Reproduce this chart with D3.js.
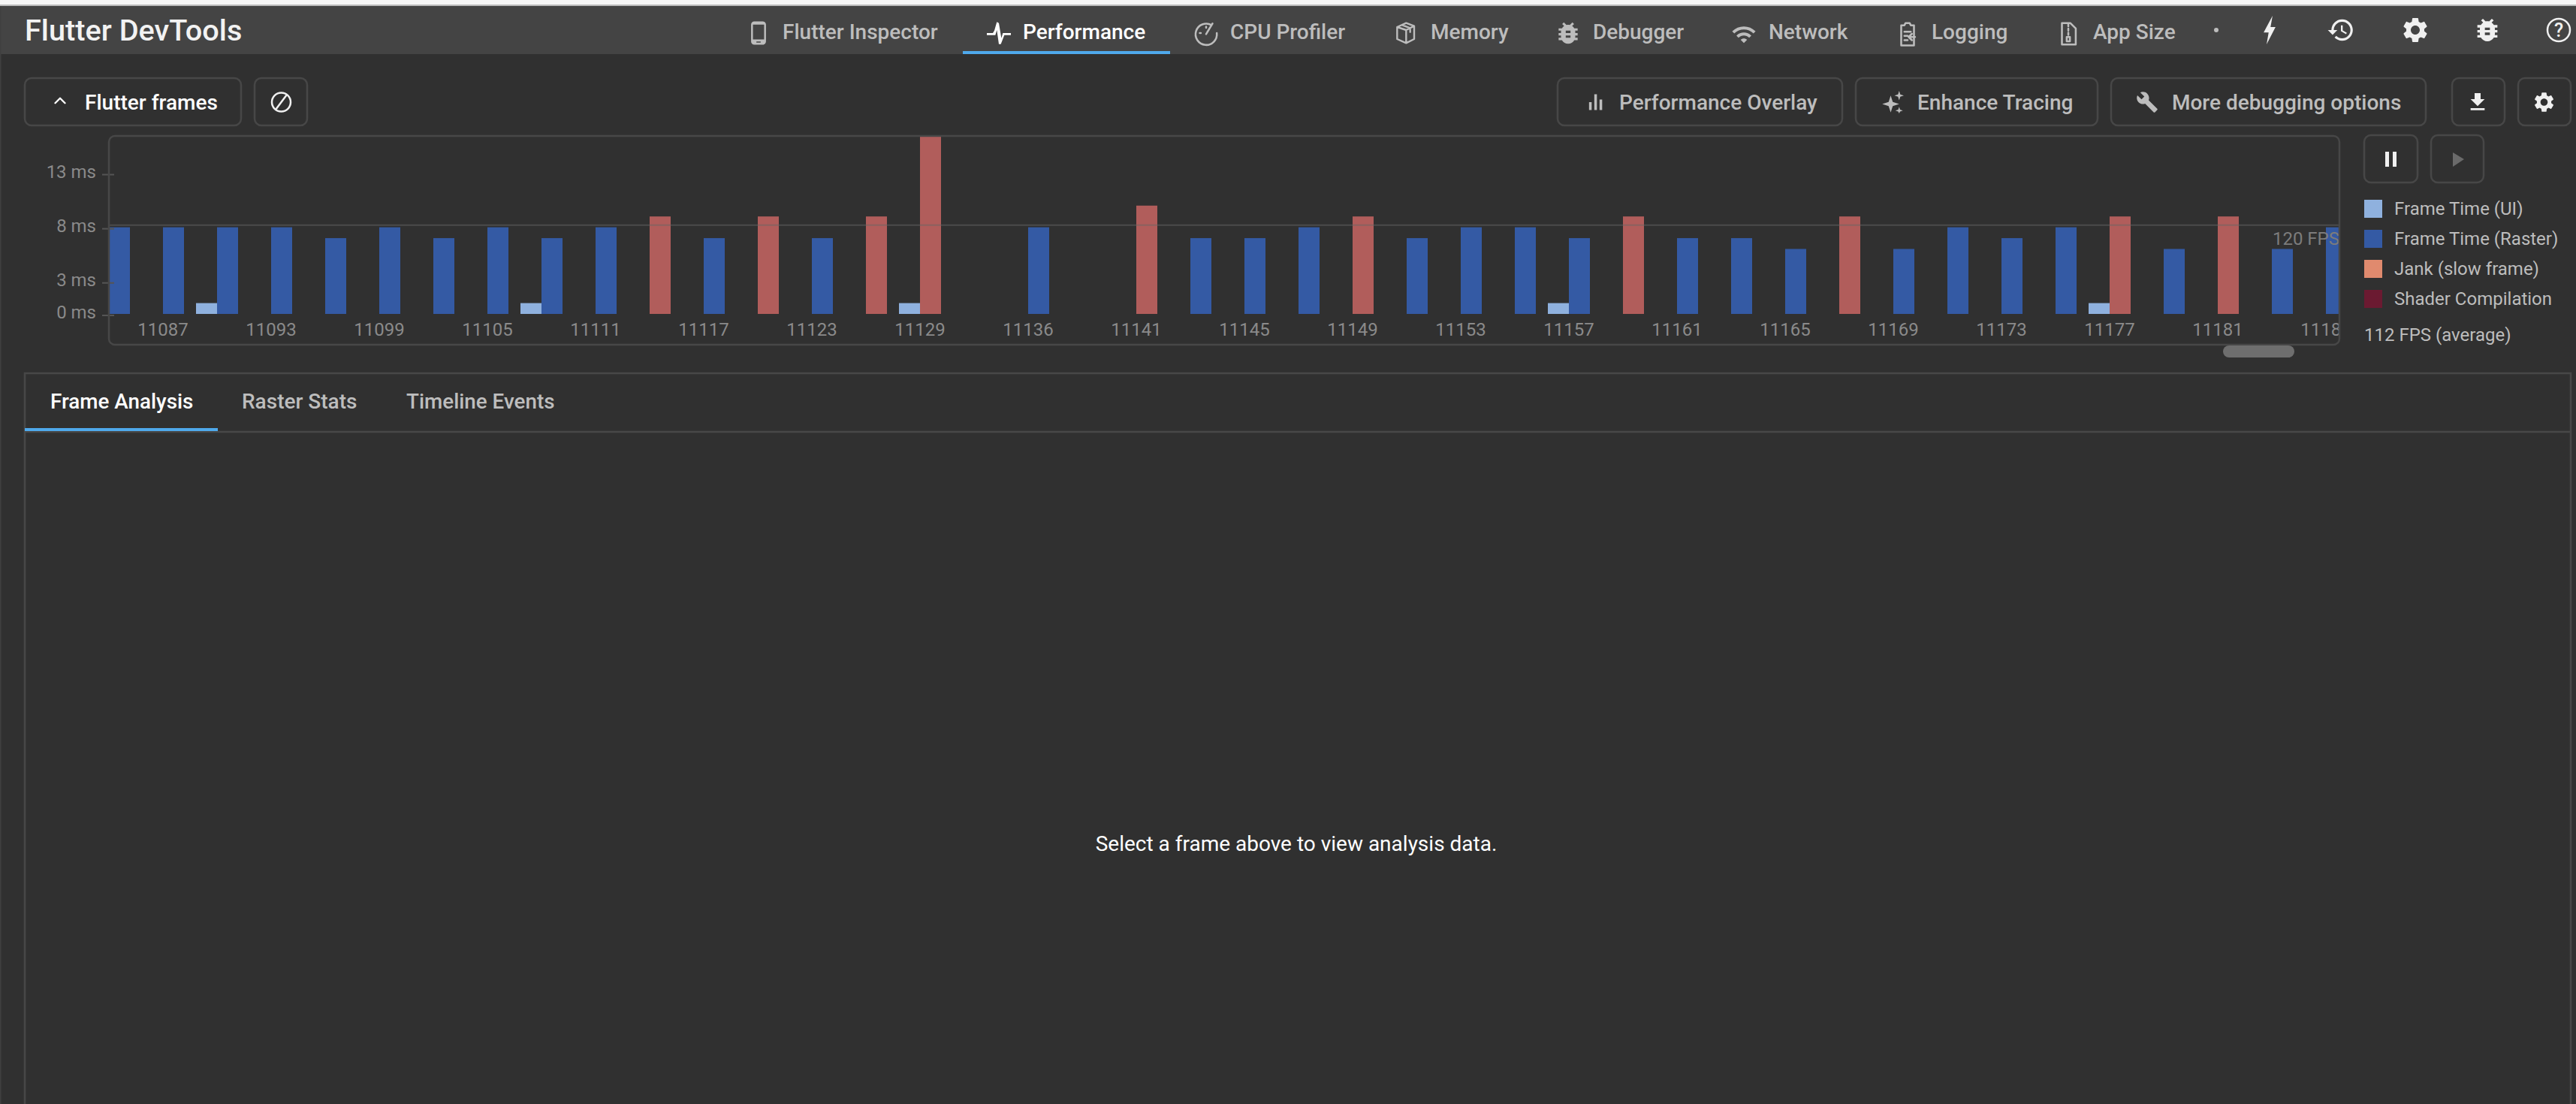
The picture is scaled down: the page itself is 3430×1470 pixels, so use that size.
<!DOCTYPE html>
<html>
<head>
<meta charset="utf-8">
<script src="https://cdn.jsdelivr.net/npm/d3@7"></script>
<style>
  html, body { margin: 0; padding: 0; background: #303030; overflow: hidden; }
  svg { display: block; font-family: Roboto, sans-serif; }
</style>
</head>
<body>
<svg id="chart" width="3430" height="1470"></svg>
<script>
// frame numbers, one per bar slot (only every other one is labelled)
var frameIds = [11084, 11087, 11090, 11093, 11096, 11099, 11102, 11105, 11108, 11111, 11114,
  11117, 11120, 11123, 11126, 11129, 11133, 11136, 11139, 11141, 11143, 11145, 11147, 11149,
  11151, 11153, 11155, 11157, 11159, 11161, 11163, 11165, 11167, 11169, 11171, 11173, 11175,
  11177, 11179, 11181, 11183, 11185];
var xTicks = [11087, 11093, 11099, 11105, 11111, 11117, 11123, 11129, 11136, 11141, 11145,
  11149, 11153, 11157, 11161, 11165, 11169, 11173, 11177, 11181, 11185];
var yTicks = [0, 3, 8, 13];

var uiTimes = [0, 0, 1, 0, 0, 0, 0, 0, 1, 0, 0, 0, 0, 0, 0, 1, 0, 0, 0, 0, 0,
  0, 0, 0, 0, 0, 0, 1, 0, 0, 0, 0, 0, 0, 0, 0, 0, 1, 0, 0, 0, 0];
var rasterTimes = [8, 8, 8, 8, 7, 8, 7, 8, 7, 8, 9, 7, 9, 7, 9, 16.4, 0, 8, 0, 10, 7,
  7, 8, 9, 7, 8, 8, 7, 9, 7, 7, 6, 9, 6, 8, 7, 8, 9, 6, 9, 6, 8];
var jankTarget = 8.2;

var legendNames = ["Frame Time (UI)", "Frame Time (Raster)", "Jank (slow frame)", "Shader Compilation"];
var legendColors = ["#8fb1de", "#345aa4", "#e08a6e", "#6b1a31"];
var navItems = ["Flutter Inspector", "Performance", "CPU Profiler", "Memory", "Debugger", "Network", "Logging", "App Size"];
var navTextX = [1042, 1362, 1638, 1905, 2121, 2355, 2572, 2787];

var svg = d3.select("#chart");
var GREY = "#bdbdbd", LINE = "#474747";

function label(x, y, str, size, color, weight, anchor) {
  return svg.append("text").attr("x", x).attr("y", y).text(str)
    .attr("font-size", size).attr("fill", color)
    .attr("font-weight", weight || 400).attr("text-anchor", anchor || "start");
}
function button(x0, x1, y0, y1) {
  svg.append("rect").attr("x", x0).attr("y", y0).attr("width", x1 - x0).attr("height", y1 - y0)
    .attr("rx", 9).attr("fill", "none").attr("stroke", LINE).attr("stroke-width", 2.5);
}
// material icons are on a 24 unit grid
function icon(path, cx, cy, size, color) {
  var k = size / 24;
  svg.append("path").attr("d", path).attr("fill", color)
    .attr("transform", "translate(" + (cx - size / 2) + "," + (cy - size / 2) + ") scale(" + k + ")");
}
function outline(path, cx, cy, size, color, sw) {
  var k = size / 24;
  svg.append("path").attr("d", path).attr("fill", "none").attr("stroke", color)
    .attr("stroke-width", sw || 1.8).attr("stroke-linejoin", "round").attr("stroke-linecap", "round")
    .attr("transform", "translate(" + (cx - size / 2) + "," + (cy - size / 2) + ") scale(" + k + ")");
}

var ICON_GEAR = "M19.14,12.94c0.04-0.3,0.06-0.61,0.06-0.94c0-0.32-0.02-0.64-0.07-0.94l2.03-1.58c0.18-0.14,0.23-0.41,0.12-0.61l-1.92-3.32c-0.12-0.22-0.37-0.29-0.59-0.22l-2.39,0.96c-0.5-0.38-1.03-0.7-1.62-0.94L14.4,2.81c-0.04-0.24-0.24-0.41-0.48-0.41h-3.84c-0.24,0-0.43,0.17-0.47,0.41L9.25,5.35C8.66,5.59,8.12,5.92,7.63,6.29L5.24,5.33c-0.22-0.08-0.47,0-0.59,0.22L2.74,8.87C2.62,9.08,2.66,9.34,2.86,9.48l2.03,1.58C4.84,11.36,4.8,11.69,4.8,12s0.02,0.64,0.07,0.94l-2.03,1.58c-0.18,0.14-0.23,0.41-0.12,0.61l1.92,3.32c0.12,0.22,0.37,0.29,0.59,0.22l2.39-0.96c0.5,0.38,1.03,0.7,1.62,0.94l0.36,2.54c0.05,0.24,0.24,0.41,0.48,0.41h3.84c0.24,0,0.44-0.17,0.47-0.41l0.36-2.54c0.59-0.24,1.13-0.56,1.62-0.94l2.39,0.96c0.22,0.08,0.47,0,0.59-0.22l1.92-3.32c0.12-0.22,0.07-0.47-0.12-0.61L19.14,12.94z M12,15.6c-1.98,0-3.6-1.62-3.6-3.6s1.62-3.6,3.6-3.6s3.6,1.62,3.6,3.6S13.98,15.6,12,15.6z";
var ICON_BUG = "M20 8h-2.81c-.45-.78-1.07-1.45-1.82-1.96L17 4.41 15.59 3l-2.17 2.17C12.96 5.06 12.49 5 12 5c-.49 0-.96.06-1.41.17L8.41 3 7 4.41l1.62 1.63C7.88 6.55 7.26 7.22 6.81 8H4v2h2.09c-.05.33-.09.66-.09 1v1H4v2h2v1c0 .34.04.67.09 1H4v2h2.81c1.04 1.79 2.97 3 5.19 3s4.15-1.21 5.19-3H20v-2h-2.09c.05-.33.09-.66.09-1v-1h2v-2h-2v-1c0-.34-.04-.67-.09-1H20V8zm-6 8h-4v-2h4v2zm0-4h-4v-2h4v2z";
var ICON_PHONE = "M16 1H8C6.34 1 5 2.34 5 4v16c0 1.66 1.34 3 3 3h8c1.66 0 3-1.34 3-3V4c0-1.66-1.34-3-3-3zm-2 20h-4v-1h4v1zm3.25-3H6.75V4h10.5v14z";
var ICON_WIFI = "M1 9l2 2c4.97-4.97 13.03-4.97 18 0l2-2C16.93 2.93 7.08 2.93 1 9zm8 8l3 3 3-3c-1.65-1.66-4.34-1.66-6 0zm-4-4l2 2c2.76-2.76 7.24-2.76 10 0l2-2C15.14 9.14 8.87 9.14 5 13z";
var ICON_HISTORY = "M13 3c-4.97 0-9 4.03-9 9H1l3.89 3.89.07.14L9 12H6c0-3.87 3.13-7 7-7s7 3.13 7 7-3.13 7-7 7c-1.93 0-3.68-.79-4.94-2.06l-1.42 1.42C8.27 19.99 10.51 21 13 21c4.97 0 9-4.03 9-9s-4.03-9-9-9zm-1 5v5l4.28 2.54.72-1.21-3.5-2.08V8H12z";
var ICON_WRENCH = "M22.7 19l-9.1-9.1c.9-2.3.4-5-1.5-6.9-2-2-5-2.4-7.4-1.3L9 6 6 9 1.6 4.7C.4 7.1.9 10.1 2.9 12.1c1.9 1.9 4.6 2.4 6.9 1.5l9.1 9.1c.4.4 1 .4 1.4 0l2.3-2.3c.5-.4.5-1.1.1-1.4z";
var ICON_DOWNLOAD = "M19 9h-4V3H9v6H5l7 7 7-7zM5 18v2h14v-2H5z";
var ICON_BOLT = "M14.5 0L7 14h4.2L9.5 24 17 9.5h-4.2z";
var ICON_SPARK = "M10 5l2.2 6.8L19 14l-6.8 2.2L10 23l-2.2-6.8L1 14l6.8-2.2zM19 0l1.2 3.8L24 5l-3.8 1.2L19 10l-1.2-3.8L14 5l3.8-1.2zM19 17l1 3 3 1-3 1-1 2-1-2-3-1 3-1z";
var ICON_BARS = "M5 12h3v9H5zM11 3h3v18h-3zM17 9h3v12h-3z";
var ICON_PULSE = "M0 12h6l1.5-2.5L10 1l2 1 2.5 15 1.5-5h8v2h-6.5L14 23h-2L10 9l-1.5 5H0z";

// page chrome
svg.append("rect").attr("width", 3430).attr("height", 7).attr("fill", "#f6f6f6");
svg.append("rect").attr("y", 6).attr("width", 3430).attr("height", 2).attr("fill", "#bcbcbc");
svg.append("rect").attr("y", 8).attr("width", 3430).attr("height", 64).attr("fill", "#444444");
svg.append("rect").attr("y", 8).attr("width", 1.5).attr("height", 1462).attr("fill", "#404040");

label(33, 54, "Flutter DevTools", 39.7, "#f2f2f2", 500);

navItems.forEach(function(name, i) {
  label(navTextX[i], 52, name, 28, name === "Performance" ? "#ffffff" : GREY, 500);
});
svg.append("rect").attr("x", 1282).attr("y", 68).attr("width", 276).attr("height", 4).attr("fill", "#4fa9ec");

icon(ICON_PHONE, 1010, 44, 34, GREY);
icon(ICON_PULSE, 1330, 44, 32, "#ffffff");
outline("M17 4.5A10 10 0 1 0 22 12M12 13l6-10M6 12h1M12 6v1", 1606, 44, 34, GREY);
outline("M4 6l9-4 8 3v13l-8 4-9-4zM4 6l9 3 8-4M13 9v13M9 4l8 3v4", 1871, 44, 32, GREY);
icon(ICON_BUG, 2088, 44, 38, GREY);
icon(ICON_WIFI, 2322, 46, 34, GREY);
outline("M6 4h3l1-2h4l1 2h3v19H6zM9 10h6M9 14h3M9 18h3M19 15h-6l3-3M13 15l3 3", 2540, 45, 34, GREY);
outline("M6 2h8l5 5v15H6zM12 3v2M12 7v2M12 11v2M10.5 15h3v4h-3z", 2754, 45, 34, GREY);
svg.append("circle").attr("cx", 2951).attr("cy", 40).attr("r", 3).attr("fill", GREY);
icon(ICON_BOLT, 3022, 40, 38, "#f0f0f0");
icon(ICON_HISTORY, 3117, 40, 38, "#f0f0f0");
icon(ICON_GEAR, 3216, 40, 40, "#f0f0f0");
icon(ICON_BUG, 3312, 40, 40, "#f0f0f0");
svg.append("circle").attr("cx", 3407).attr("cy", 40).attr("r", 15).attr("fill", "none").attr("stroke", "#f0f0f0").attr("stroke-width", 2.5);
label(3407, 49, "?", 25, "#f0f0f0", 500, "middle");

// button row
button(33, 321, 104, 167);
outline("M6 15l6-6 6 6", 80, 134, 26, "#ffffff", 2.2);
label(113, 146, "Flutter frames", 28, "#ffffff", 500);
button(339, 409, 104, 167);
svg.append("circle").attr("cx", 374.5).attr("cy", 136).attr("r", 12.5).attr("fill", "none").attr("stroke", "#f0f0f0").attr("stroke-width", 2.5);
svg.append("line").attr("x1", 367).attr("y1", 146).attr("x2", 382).attr("y2", 126).attr("stroke", "#f0f0f0").attr("stroke-width", 2.5);

button(2074, 2453, 104, 167);
icon(ICON_BARS, 2124, 136, 28, GREY);
label(2156, 146, "Performance Overlay", 28, GREY, 500);
button(2471, 2793, 104, 167);
icon(ICON_SPARK, 2520, 136, 30, GREY);
label(2553, 146, "Enhance Tracing", 28, GREY, 500);
button(2811, 3230, 104, 167);
icon(ICON_WRENCH, 2859, 136, 30, GREY);
label(2892, 146, "More debugging options", 28, GREY, 500);
button(3265, 3335, 104, 167);
icon(ICON_DOWNLOAD, 3299, 136, 32, "#f0f0f0");
button(3353, 3423, 104, 167);
icon(ICON_GEAR, 3387.5, 136, 32, "#f0f0f0");

// frame chart
var plot = { left: 145, right: 3115, top: 181, bottom: 459, base: 418, scaleTop: 181.5, barW: 28 };

var x = d3.scaleBand().domain(frameIds).range([109, 109 + 72 * frameIds.length]);
var y = d3.scaleLinear().domain([0, 16.4]).range([plot.base, plot.scaleTop]);

svg.append("clipPath").attr("id", "plot-clip").append("rect")
  .attr("x", plot.left).attr("y", plot.top)
  .attr("width", plot.right - plot.left).attr("height", plot.bottom - plot.top);

var frames = frameIds.map(function(id, i) {
  return { id: id, ui: uiTimes[i], raster: rasterTimes[i] };
});
var center = function(d) { return x(d.id) + x.bandwidth() / 2; };

var bars = svg.append("g").attr("clip-path", "url(#plot-clip)");

bars.selectAll("rect.ui").data(frames.filter(function(d) { return d.ui > 0; }))
  .enter().append("rect").attr("class", "ui")
  .attr("x", function(d) { return center(d) - plot.barW; })
  .attr("y", function(d) { return y(d.ui); })
  .attr("width", plot.barW)
  .attr("height", function(d) { return y(0) - y(d.ui); })
  .attr("fill", legendColors[0]);

bars.selectAll("rect.raster").data(frames.filter(function(d) { return d.raster > 0; }))
  .enter().append("rect").attr("class", "raster")
  .attr("x", center)
  .attr("y", function(d) { return y(d.raster); })
  .attr("width", plot.barW)
  .attr("height", function(d) { return y(0) - y(d.raster); })
  .attr("fill", function(d) { return d.raster > jankTarget ? "#b15d5b" : legendColors[1]; });

// 120 FPS target line goes over the bars
bars.append("line")
  .attr("x1", plot.left).attr("x2", plot.right)
  .attr("y1", y(jankTarget)).attr("y2", y(jankTarget))
  .attr("stroke", "#666666").attr("stroke-opacity", 0.5).attr("stroke-width", 2);

var labels = svg.append("g").attr("clip-path", "url(#plot-clip)");
labels.append("text").attr("x", plot.right).attr("y", 326).attr("text-anchor", "end")
  .attr("font-size", 24).attr("fill", "#7c7c7c").text("120 FPS");

var xAxis = d3.axisBottom(x).tickValues(xTicks).tickSize(0).tickPadding(12);
var xg = labels.append("g").attr("transform", "translate(0," + plot.base + ")").call(xAxis);
xg.select(".domain").remove();
xg.selectAll("text").attr("font-family", "Roboto, sans-serif").attr("font-size", 24).attr("fill", "#8a8a8a");

var yAxis = d3.axisLeft(y).tickValues(yTicks).tickSize(16).tickPadding(8)
  .tickFormat(function(d) { return d + " ms"; });
var yg = svg.append("g").attr("transform", "translate(152,1.5)").call(yAxis);
yg.select(".domain").remove();
yg.selectAll("line").attr("stroke", "#555555").attr("stroke-width", 2);
yg.selectAll("text").attr("font-family", "Roboto, sans-serif").attr("font-size", 24).attr("dy", ".17em").attr("fill", "#8a8a8a");

svg.append("rect").attr("x", plot.left).attr("y", plot.top)
  .attr("width", plot.right - plot.left).attr("height", plot.bottom - plot.top)
  .attr("rx", 8).attr("fill", "none").attr("stroke", LINE).attr("stroke-width", 2.5);

// scrollbar under the chart
svg.append("rect").attr("x", 2960).attr("y", 460).attr("width", 95).attr("height", 16)
  .attr("rx", 8).attr("fill", "#6e6e6e");

// pause / play
button(3148, 3219, 180, 243);
svg.append("rect").attr("x", 3176).attr("y", 202).attr("width", 5).attr("height", 20).attr("fill", "#f0f0f0");
svg.append("rect").attr("x", 3186).attr("y", 202).attr("width", 5).attr("height", 20).attr("fill", "#f0f0f0");
button(3237, 3307, 180, 243);
svg.append("path").attr("d", "M3266 203l15 9-15 10z").attr("fill", "#6a6a6a");

// legend
var legend = svg.selectAll("g.legend").data(legendNames).enter().append("g").attr("class", "legend")
  .attr("transform", function(d, i) { return "translate(3148," + (266 + i * 40) + ")"; });
legend.append("rect").attr("width", 24).attr("height", 24)
  .attr("fill", function(d, i) { return legendColors[i]; });
legend.append("text").attr("x", 40).attr("y", 20).attr("font-size", 24).attr("fill", GREY)
  .text(function(d) { return d; });
label(3148, 454, "112 FPS (average)", 24, GREY);

// analysis panel
svg.append("rect").attr("x", 33).attr("y", 497).attr("width", 3390).attr("height", 1000)
  .attr("fill", "none").attr("stroke", LINE).attr("stroke-width", 2.5);
svg.append("line").attr("x1", 33).attr("x2", 3423).attr("y1", 575).attr("y2", 575)
  .attr("stroke", LINE).attr("stroke-width", 2.5);
svg.append("rect").attr("x", 33).attr("y", 570).attr("width", 257).attr("height", 4).attr("fill", "#4fa9ec");
label(67, 544, "Frame Analysis", 27.8, "#ffffff", 500);
label(322, 544, "Raster Stats", 28, GREY, 500);
label(541, 544, "Timeline Events", 27.8, GREY, 500);
label(1726, 1133, "Select a frame above to view analysis data.", 28, "#ffffff", 400, "middle");
</script>
</body>
</html>
